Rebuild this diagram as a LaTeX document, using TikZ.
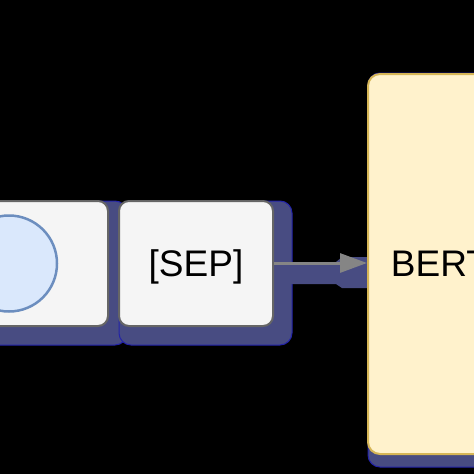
\documentclass[tikz,border=0pt]{standalone}
\usepackage{fontspec}
\setmainfont{Liberation Sans}
\usetikzlibrary{arrows.meta,calc}
\definecolor{tokfill}{HTML}{F5F5F5}
\definecolor{tokline}{HTML}{666666}
\definecolor{circfill}{HTML}{DAE8FC}
\definecolor{circline}{HTML}{6C8EBF}
\definecolor{bertfill}{HTML}{FFF2CC}
\definecolor{bertline}{HTML}{D6B656}
\definecolor{shadefill}{HTML}{484C82}
\definecolor{shadeline}{HTML}{2323A8}
\begin{document}
\begin{tikzpicture}[x=1pt,y=-1pt,
    tok/.style={draw=tokline,fill=tokfill,line width=2pt,rounded corners=10pt,
                font=\fontsize{37}{44}\selectfont,inner sep=0pt},
    bertbox/.style={draw=bertline,fill=bertfill,line width=2pt,rounded corners=12pt,
                font=\fontsize{37}{44}\selectfont,inner sep=0pt},
    shade/.style={fill=shadefill,draw=shadeline,line width=1pt,rounded corners=12pt}]
    \fill[black] (0,0) rectangle (474,474);
    \clip (0,0) rectangle (474,474);

    % shadows
    \draw[shade] (-50,201) rectangle (127,345);
    \draw[shade] (119,201) rectangle (292,345);
    \draw[shade] (368,73)  rectangle (531,467);
    \fill[shadefill] (280,262) -- (336,262) -- (342,257) -- (369,257)
                  -- (369,288) -- (342,288) -- (336,284) -- (280,284) -- cycle;

    % tokens
    \node[tok,minimum width=158pt,minimum height=125pt] (cls) at (29,263.5) {};
    \node[draw=circline,fill=circfill,line width=2.5pt,circle,
          minimum size=96pt] (emb) at (9,263.5) {};
    \node[tok,minimum width=154pt,minimum height=125pt,text depth=0pt] (sep) at (196,263.5) {[SEP]};

    % model
    \node[bertbox,minimum width=144pt,minimum height=380pt] (bert) at (440,264) {BERT};

    \draw[-{Triangle[length=27pt,width=19pt]},draw=tokline!80!white,fill=tokline!80!white,
          line width=3pt] (sep.east |- 0,263) -- (bert.west |- 0,263);
\end{tikzpicture}
\end{document}
